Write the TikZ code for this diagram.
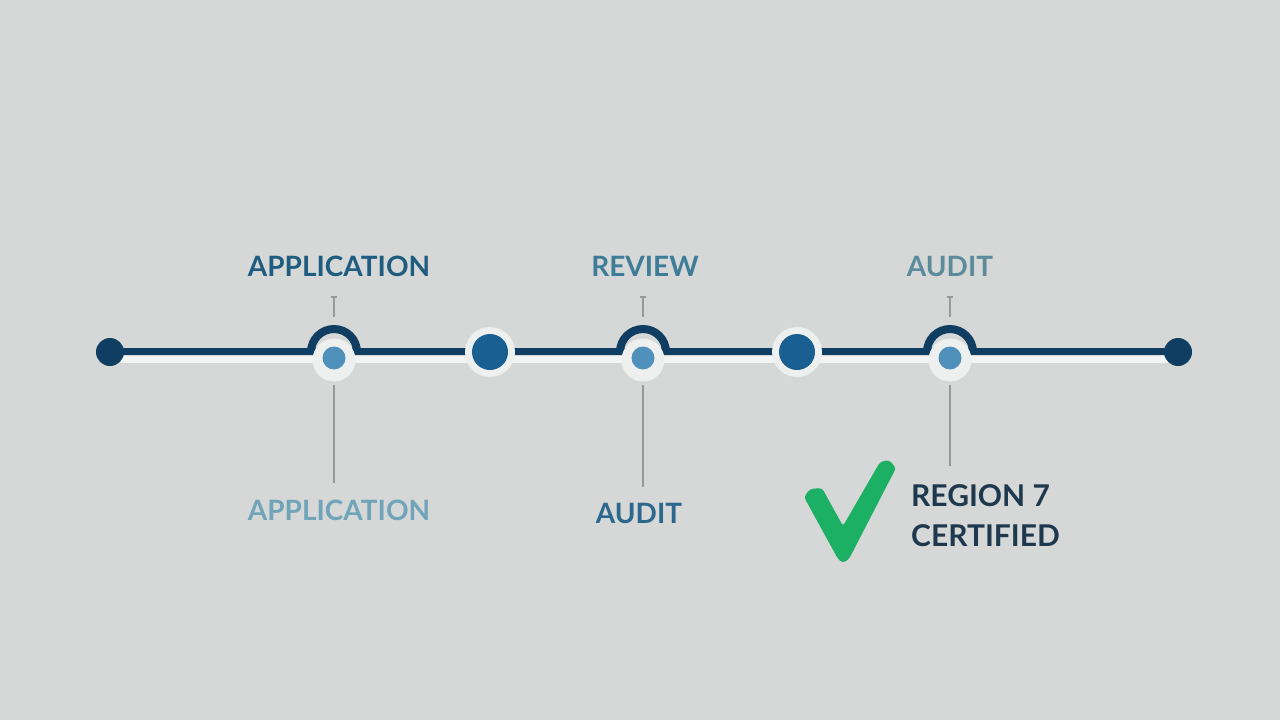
\documentclass[tikz,border=0pt]{standalone}
\usepackage{fontspec}
\setmainfont{Lato}
\definecolor{bgc}{RGB}{214,215,215}
\definecolor{navyc}{RGB}{15,62,98}
\definecolor{stripc}{RGB}{242,244,244}
\definecolor{ringc}{RGB}{238,240,240}
\definecolor{innerc}{RGB}{80,145,188}
\definecolor{bigc}{RGB}{26,95,145}
\definecolor{tickc}{RGB}{150,152,154}
\definecolor{tA}{RGB}{30,92,128}
\definecolor{tB}{RGB}{62,124,152}
\definecolor{tC}{RGB}{92,140,156}
\definecolor{uA}{RGB}{112,164,184}
\definecolor{uB}{RGB}{44,104,142}
\definecolor{greenc}{RGB}{28,176,100}
\definecolor{certc}{RGB}{30,56,78}
\begin{document}
\begin{tikzpicture}[x=1pt,y=-1pt,
  ringw/.style={circle,fill=ringc,minimum size=43pt,inner sep=0pt},
  innerdot/.style={circle,fill=innerc,minimum size=23pt,inner sep=0pt},
  bigw/.style={circle,fill=ringc,minimum size=50pt,inner sep=0pt},
  bigdot/.style={circle,fill=bigc,minimum size=36pt,inner sep=0pt},
  enddot/.style={circle,fill=navyc,minimum size=28pt,inner sep=0pt},
  tick/.style={draw=tickc,line width=1.6pt},
  lbl/.style={font=\bfseries\fontsize{28}{32}\selectfont,inner sep=0pt,anchor=base}
]
\fill[bgc] (0,0) rectangle (1280,720);
\useasboundingbox (0,0) rectangle (1280,720);

% white shadow strip
\draw[line width=7pt,color=stripc] (112,359) -- (1176,359);
% main line
\draw[line width=7pt,color=navyc] (110,351) -- (1178,351);

% end dots
\node[enddot] (L) at (110,352) {};
\node[enddot] (R) at (1178,352) {};

% middle big dots
\foreach \n/\x in {m1/490,m2/797}{
  \node[bigw] (\n w) at (\x,352) {};
  \node[bigdot] (\n) at (\x,352) {};
}

% stage nodes
\foreach \n/\x in {s1/334,s2/643,s3/950}{
  \draw[line width=8pt,color=navyc] (\x-23,352) arc[start angle=180,end angle=360,radius=23];
  \node[ringw] (\n w) at (\x,360) {};
  \node[innerdot] (\n) at (\x,358) {};
  \coordinate (\n t1) at (\x,297);
  \coordinate (\n t2) at (\x,317);
  \draw[tick] (\n t1) -- (\n t2);
  \draw[tick,line width=2.2pt] (\x-3,297) -- (\x+3,297);
}

% bottom connectors
\coordinate (b1) at (334,483);
\coordinate (b2) at (643,487);
\coordinate (b3) at (950,466);
\draw[tick] ([yshift=-3pt]s1w.south) -- (b1);
\draw[tick] ([yshift=-3pt]s2w.south) -- (b2);
\draw[tick] ([yshift=-3pt]s3w.south) -- (b3);

% top labels
\node[lbl,text=tA] (t1) at (339,276) {APPLICATION};
\node[lbl,text=tB] (t2) at (645,276) {REVIEW};
\node[lbl,text=tC] (t3) at (950,276) {AUDIT};

% bottom labels
\node[lbl,text=uA] (u1) at (339,520) {APPLICATION};
\node[lbl,text=uB] (u2) at (639,523) {AUDIT};

% check mark
\fill[greenc,rounded corners=3pt] (804,497) -- (810,489) -- (822,488) -- (843,526) -- (880,462) -- (889,460) -- (896,468) -- (849,559) -- (843,563) -- (838,559) -- cycle;

% certified label
\node[font=\bfseries\fontsize{30}{40}\selectfont,align=left,anchor=north west,inner sep=0pt,text=certc] (cert) at (911,484) {REGION 7\\CERTIFIED};
\end{tikzpicture}
\end{document}
